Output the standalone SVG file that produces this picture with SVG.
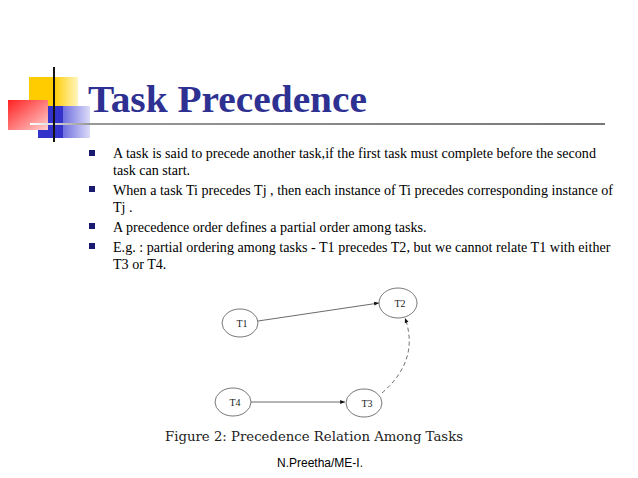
<svg xmlns="http://www.w3.org/2000/svg" width="638" height="478" viewBox="0 0 638 478">
<style>
.b{font-family:"Liberation Serif",serif;font-size:14.1px;fill:#000}
.n{fill:#fff;stroke:#555;stroke-width:0.8}
.l{font-family:"Liberation Serif",serif;font-size:10px;fill:#222;text-anchor:middle}
.c{stroke:#444;stroke-width:0.8;fill:none}
</style>
<defs>
<linearGradient id="y" x1="0" x2="1"><stop offset="0.5" stop-color="#ffcc00"/><stop offset="1" stop-color="#fff6c0"/></linearGradient>
<linearGradient id="r" x1="0" y1="0" x2="1" y2="1"><stop offset="0" stop-color="#ff2020"/><stop offset="1" stop-color="#ffd0d0"/></linearGradient>
<linearGradient id="lb" x1="0" x2="1"><stop offset="0" stop-color="#6f6fe0"/><stop offset="1" stop-color="#dcdcf8"/></linearGradient>
<linearGradient id="hl" x1="0" x2="1"><stop offset="0" stop-color="#fff"/><stop offset="0.1" stop-color="#999"/><stop offset="1" stop-color="#777"/></linearGradient>
<marker id="a" viewBox="0 0 10 10" refX="10" refY="5" markerWidth="8" markerHeight="6" orient="auto"><path d="M0,1 L10,5 L0,9 z" fill="#111"/></marker>
</defs>
<rect x="29" y="77" width="49" height="30" fill="url(#y)"/>
<rect x="38" y="106" width="25" height="32" fill="#3333cc"/>
<rect x="63" y="106" width="27" height="32" fill="url(#lb)"/>
<rect x="8" y="100" width="40" height="30" fill="url(#r)"/>
<rect x="30" y="123" width="575" height="2" fill="url(#hl)"/>
<rect x="53" y="67" width="2" height="75" fill="#111"/>
<text x="88" y="112" font-family="Liberation Serif,serif" font-size="37" font-weight="bold" fill="#2e3192" textLength="279" lengthAdjust="spacingAndGlyphs">Task Precedence</text>
<g fill="#1a1a70"><rect x="89" y="150" width="6" height="6"/><rect x="89" y="186" width="6" height="6"/><rect x="89" y="223" width="6" height="6"/><rect x="89" y="243" width="6" height="6"/></g>
<text class="b" x="113" y="158">A task is said to precede another task,if the first task must complete before the second</text>
<text class="b" x="113" y="175">task can start.</text>
<text class="b" x="113" y="195">When a task Ti precedes Tj , then each instance of Ti precedes corresponding instance of</text>
<text class="b" x="113" y="212">Tj .</text>
<text class="b" x="113" y="232">A precedence order defines a partial order among tasks.</text>
<text class="b" x="113" y="252">E.g. : partial ordering among tasks - T1 precedes T2, but we cannot relate T1 with either</text>
<text class="b" x="113" y="269">T3 or T4.</text>
<g id="connectors">
<path class="c" d="M258,321 L379,303" marker-end="url(#a)"/>
<path class="c" d="M251,402 L345,402" marker-end="url(#a)"/>
<path class="c" d="M382,393 Q420,360 405,318" stroke-dasharray="4,3" marker-end="url(#a)"/>
</g>
<g id="T1"><ellipse class="n" cx="240" cy="323" rx="18" ry="14"/><text class="l" x="242" y="327">T1</text></g>
<g id="T2"><ellipse class="n" cx="398" cy="303" rx="19" ry="15"/><text class="l" x="400" y="307">T2</text></g>
<g id="T4"><ellipse class="n" cx="233" cy="402" rx="18" ry="14"/><text class="l" x="235" y="406">T4</text></g>
<g id="T3"><ellipse class="n" cx="364" cy="403" rx="18" ry="14"/><text class="l" x="367" y="407">T3</text></g>
<text x="314" y="441" font-family="DejaVu Serif,serif" font-size="12" fill="#222" text-anchor="middle" textLength="298" lengthAdjust="spacingAndGlyphs">Figure 2: Precedence Relation Among Tasks</text>
<text x="320" y="467" font-family="Liberation Sans,sans-serif" font-size="12" fill="#000" text-anchor="middle">N.Preetha/ME-I.</text>
</svg>
